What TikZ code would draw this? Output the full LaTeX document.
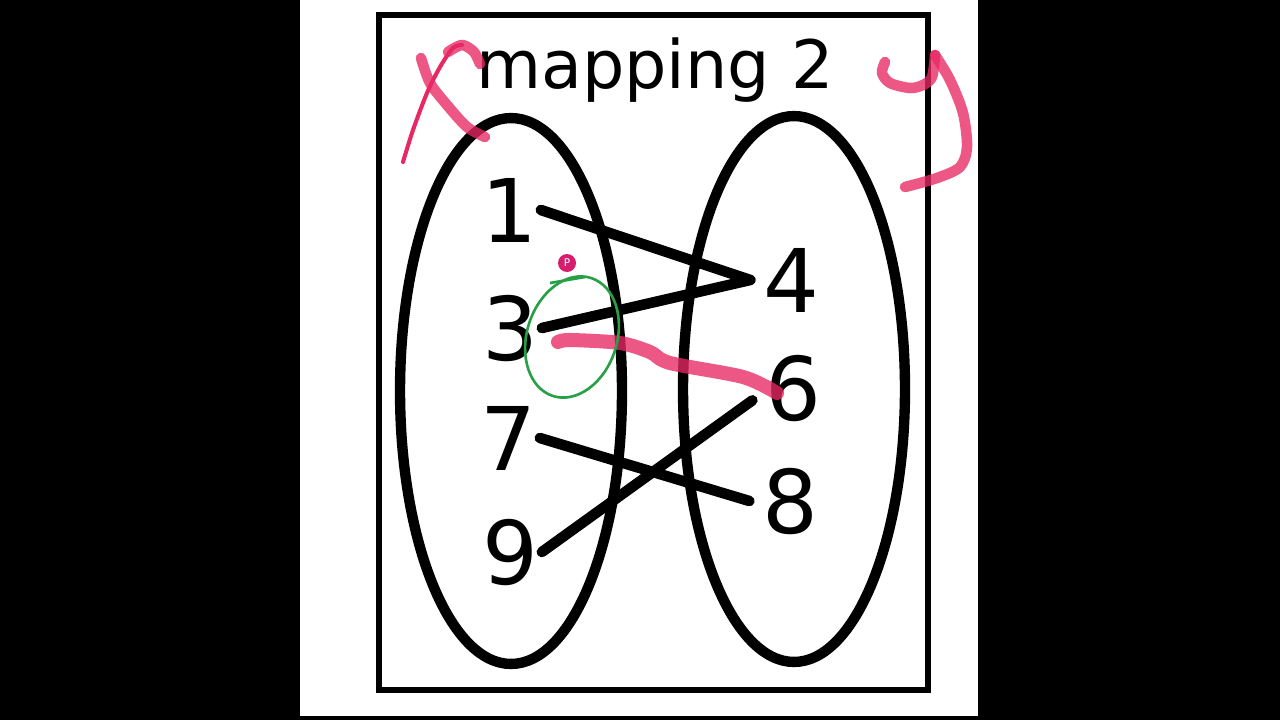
\documentclass[tikz,border=0pt]{standalone}
\usepackage{fontspec}
\setmainfont{DejaVu Sans}
\usetikzlibrary{shapes.geometric}
\definecolor{pen}{RGB}{232,40,100}
\definecolor{loopgreen}{RGB}{40,160,70}
\definecolor{pindot}{RGB}{214,30,110}

\begin{document}
\begin{tikzpicture}[x=0.02cm,y=-0.02cm,
    lnum/.style={anchor=base, inner xsep=2pt, inner ysep=0pt, font=\fontsize{50}{60}\selectfont},
    rnum/.style={anchor=base, inner xsep=7pt, inner ysep=0pt, font=\fontsize{50}{60}\selectfont},
    set/.style={draw, ellipse, line width=5.9pt, minimum width=4.44cm, minimum height=10.92cm},
    link/.style={line width=6pt, line cap=round},
    ink/.style={pen, opacity=0.78, line width=6pt, line cap=round, line join=round}]

    \useasboundingbox (0,0) rectangle (1280,720);
    \fill[black] (0,0) rectangle (1280,720);
    \fill[white] (300,0) rectangle (978,716);

    \draw[line width=3pt] (379,15) rectangle (928,690);
    \node[anchor=base, font=\fontsize{38}{46}\selectfont] (title) at (655,88) {mapping 2};

    \node[set] (dom) at (511,391) {};
    \node[set] (ran) at (794,389) {};

    \node[lnum] (n1) at (509,242) {1};
    \node[lnum] (n3) at (510,360) {3};
    \node[lnum] (n7) at (508,470) {7};
    \node[lnum] (n9) at (510,584) {9};
    \node[rnum] (n4) at (791,312) {4};
    \node[rnum] (n6) at (793,420) {6};
    \node[rnum] (n8) at (790,533) {8};

    \draw[link] (n1.east) -- (n4.west);
    \draw[link] (n3.east) -- (n4.west);
    \draw[link] (n7.east) -- (n8.west);
    \draw[link] (n9.east) -- ([yshift=-7pt]n6.west);

    % pen marks
    \draw[pen, line width=2.3pt, line cap=round] plot[smooth] coordinates {(403,162) (413,130) (427,93) (440,67) (453,48) (462,45)};
    \draw[ink] plot[smooth] coordinates {(448,52) (462,45) (474,52) (480,64)};
    \draw[ink] plot[smooth] coordinates {(421,58) (430,83) (447,105) (467,127) (485,137)};
    \draw[ink] plot[smooth] coordinates {(885,62) (882,73) (890,83) (910,88) (923,85) (932,77) (935,55)};
    \draw[ink] plot[smooth] coordinates {(935,55) (950,80) (963,113) (967,147) (960,167) (937,178) (905,187)};
    \draw[ink, line width=8pt] plot[smooth] coordinates {(558,342) (570,340) (620,343) (650,352) (670,363) (743,377) (777,393)};

    \draw[loopgreen, line width=1.5pt, rotate around={-18:(572,337)}] (572,337) ellipse [x radius=45, y radius=62];
    \draw[loopgreen, line width=1.5pt] (550,283) -- (585,277);
    \node[circle, fill=pindot, inner sep=0pt, minimum size=0.36cm, text=white, font=\fontsize{6}{6}\selectfont] (pin) at (567,263) {P};

\end{tikzpicture}
\end{document}
